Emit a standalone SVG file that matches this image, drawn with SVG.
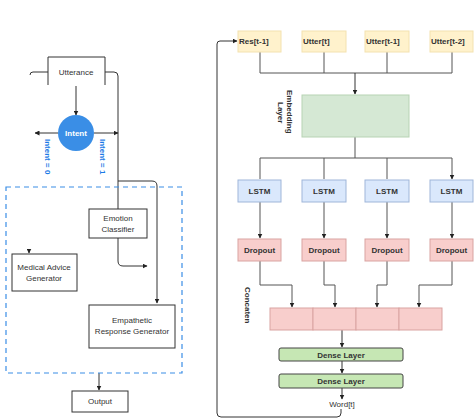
<svg xmlns="http://www.w3.org/2000/svg" width="474" height="420" viewBox="0 0 474 420">
<defs>
<marker id="ah" viewBox="0 0 10 10" refX="9" refY="5" markerWidth="5" markerHeight="5" orient="auto"><path d="M0,0L10,5L0,10z" fill="#222"/></marker>
</defs>
<style>
text{font-family:"Liberation Sans",Arial,sans-serif;}
.lt{font-size:8px;fill:#333;text-anchor:middle;}
.box{fill:#fff;stroke:#333;stroke-width:1;}
.ln{fill:none;stroke:#333;stroke-width:1;}
.gl{fill:none;stroke:#555;stroke-width:1;}
.yb{fill:#fff2cc;stroke:#f3e2b0;stroke-width:1;}
.bb{fill:#dae8fc;stroke:#9fb6d9;stroke-width:1;}
.rb{fill:#f8cecc;stroke:#d9a3a1;stroke-width:1;}
.gb{fill:#d5e8d4;stroke:#b7d3b4;stroke-width:1;}
.db{fill:#c6e7b4;stroke:#444;stroke-width:1;}
.bt{font-size:8px;font-weight:bold;fill:#333;}
.it{font-size:8px;font-weight:bold;fill:#1a7ae6;}
</style>
<rect width="474" height="420" fill="#fff"/>
<g id="connectors">
<!-- left -->
<path class="ln" d="M48,72H33Q30,72 30,75"/>
<path class="ln" d="M105,72H114Q118,72 118,76V210"/>
<path class="ln" d="M76,86V115" marker-end="url(#ah)"/>
<path class="ln" d="M58,133H35" marker-end="url(#ah)"/>
<path class="ln" d="M94,133H118" marker-end="url(#ah)"/>
<path class="ln" d="M118,181H152Q157,181 157,186V303" marker-end="url(#ah)"/>
<path class="ln" d="M118,238V261Q118,266 123,266H147" marker-end="url(#ah)"/>
<path class="ln" d="M29,249V253" marker-end="url(#ah)"/>
<path class="ln" d="M99,373V390" marker-end="url(#ah)"/>
<!-- right -->
<path class="gl" d="M260,52V73M324,52V73M387,52V73M452,52V73M260,73H452"/>
<path class="ln" d="M355,73V94" marker-end="url(#ah)"/>
<path class="gl" d="M355,137V158M260,158H452"/>
<path class="gl" d="M260,158V179M324,158V179M387,158V179M452,158V179" marker-end="url(#ah)"/>
<path class="gl" d="M260,202V238" marker-end="url(#ah)"/>
<path class="gl" d="M324,202V238" marker-end="url(#ah)"/>
<path class="gl" d="M387,202V238" marker-end="url(#ah)"/>
<path class="gl" d="M452,202V238" marker-end="url(#ah)"/>
<path class="gl" d="M260,261V285H292V307" marker-end="url(#ah)"/>
<path class="gl" d="M324,261V285H335V307" marker-end="url(#ah)"/>
<path class="gl" d="M387,261V285H377V307" marker-end="url(#ah)"/>
<path class="gl" d="M452,261V285H419V307" marker-end="url(#ah)"/>
<path class="ln" d="M342,330V347" marker-end="url(#ah)"/>
<path class="ln" d="M342,361V373" marker-end="url(#ah)"/>
<path class="ln" d="M342,388V399" marker-end="url(#ah)"/>
<path class="ln" d="M341,409V413Q341,417 337,417H221Q217,417 217,413V44Q217,41 220,41H237" marker-end="url(#ah)"/>
</g>
<g id="utterance">
<path class="ln" d="M48,85V57H105V85"/>
<text class="lt" x="76" y="75">Utterance</text>
</g>
<g id="intent">
<circle cx="76" cy="133" r="18" fill="#3a8ee6"/>
<text x="76" y="136" font-size="8" font-weight="bold" fill="#fff" text-anchor="middle">Intent</text>
</g>
<g id="intent-labels">
<text class="it" transform="translate(45,139) rotate(90)">Intent = 0</text>
<text class="it" transform="translate(100,139) rotate(90)">Intent = 1</text>
</g>
<g id="dialog-box">
<rect x="6" y="187" width="176" height="186" fill="none" stroke="#3a8ee6" stroke-width="1.2" stroke-dasharray="5,4"/>
</g>
<g id="emotion-classifier">
<rect class="box" x="89" y="209" width="58" height="29"/>
<text class="lt" x="118" y="221">Emotion</text>
<text class="lt" x="118" y="232">Classifier</text>
</g>
<g id="medical-advice">
<rect class="box" x="12" y="254" width="65" height="37"/>
<text class="lt" x="44" y="270">Medical Advice</text>
<text class="lt" x="44" y="281">Generator</text>
</g>
<g id="empathetic">
<rect class="box" x="89" y="305" width="86" height="43"/>
<text class="lt" x="132" y="323">Empathetic</text>
<text class="lt" x="132" y="334">Response Generator</text>
</g>
<g id="output">
<rect class="box" x="72" y="391" width="56" height="21"/>
<text class="lt" x="100" y="404">Output</text>
</g>
<g id="res">
<rect class="yb" x="238" y="31" width="43" height="21"/>
<text class="bt" x="239" y="44">Res[t-1]</text>
</g>
<g id="utter-t">
<rect class="yb" x="302" y="31" width="44" height="21"/>
<text class="bt" x="303" y="44">Utter[t]</text>
</g>
<g id="utter-t1">
<rect class="yb" x="365" y="31" width="44" height="21"/>
<text class="bt" x="366" y="44">Utter[t-1]</text>
</g>
<g id="utter-t2">
<rect class="yb" x="430" y="31" width="43" height="21"/>
<text class="bt" x="431" y="44">Utter[t-2]</text>
</g>
<g id="embedding">
<rect class="gb" x="302" y="95" width="107" height="42"/>
<text class="bt" transform="translate(287,90) rotate(90)" font-size="8.5">Embedding</text>
<text class="bt" transform="translate(278,102) rotate(90)" font-size="8.5">Layer</text>
</g>
<g id="lstm1"><rect class="bb" x="238" y="180" width="43" height="22"/><text class="bt" x="259.5" y="194" text-anchor="middle">LSTM</text></g>
<g id="lstm2"><rect class="bb" x="302" y="180" width="44" height="22"/><text class="bt" x="324" y="194" text-anchor="middle">LSTM</text></g>
<g id="lstm3"><rect class="bb" x="365" y="180" width="44" height="22"/><text class="bt" x="387" y="194" text-anchor="middle">LSTM</text></g>
<g id="lstm4"><rect class="bb" x="430" y="180" width="43" height="22"/><text class="bt" x="451.5" y="194" text-anchor="middle">LSTM</text></g>
<g id="drop1"><rect class="rb" x="238" y="239" width="43" height="22"/><text class="bt" x="259.5" y="253" text-anchor="middle">Dropout</text></g>
<g id="drop2"><rect class="rb" x="302" y="239" width="44" height="22"/><text class="bt" x="324" y="253" text-anchor="middle">Dropout</text></g>
<g id="drop3"><rect class="rb" x="365" y="239" width="44" height="22"/><text class="bt" x="387" y="253" text-anchor="middle">Dropout</text></g>
<g id="drop4"><rect class="rb" x="430" y="239" width="43" height="22"/><text class="bt" x="451.5" y="253" text-anchor="middle">Dropout</text></g>
<g id="concat">
<rect class="rb" x="270" y="308" width="43" height="22"/>
<rect class="rb" x="313" y="308" width="43" height="22"/>
<rect class="rb" x="356" y="308" width="43" height="22"/>
<rect class="rb" x="399" y="308" width="43" height="22"/>
<text class="bt" transform="translate(245,287) rotate(90)" font-size="8.5">Concaten</text>
</g>
<g id="dense1"><rect class="db" x="279" y="348" width="124" height="13" rx="2"/><text class="bt" x="341" y="358" text-anchor="middle">Dense Layer</text></g>
<g id="dense2"><rect class="db" x="279" y="374" width="124" height="14" rx="2"/><text class="bt" x="341" y="384" text-anchor="middle">Dense Layer</text></g>
<g id="word"><text x="342" y="407" font-size="8" fill="#333" text-anchor="middle">Word[t]</text></g>
</svg>
